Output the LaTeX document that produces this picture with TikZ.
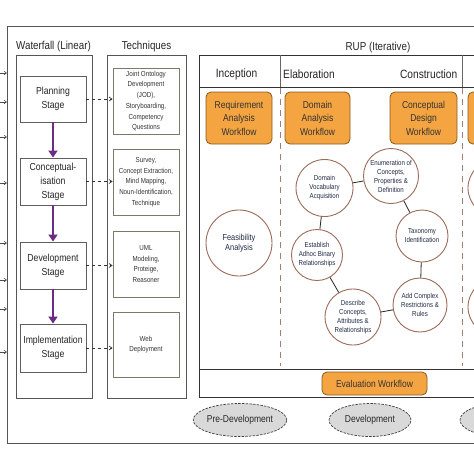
\documentclass[tikz,border=0pt]{standalone}
\usepackage{fontspec}
\setmainfont{Liberation Sans}[FakeStretch=0.85]
\usetikzlibrary{arrows.meta,shapes.geometric}
\definecolor{framegrey}{HTML}{555555}
\definecolor{boxgrey}{HTML}{5E5E5E}
\definecolor{techgrey}{HTML}{7A7A68}
\definecolor{purp}{HTML}{6B2D83}
\definecolor{orfill}{HTML}{F4A441}
\definecolor{ordraw}{HTML}{8A5A1E}
\definecolor{circ}{HTML}{9C6B5A}
\definecolor{dashbrown}{HTML}{A08070}
\definecolor{navy}{HTML}{1F2A44}
\definecolor{ellfill}{HTML}{D9D9D9}
\tikzset{
  titletext/.style={font=\fontsize{11.5}{13}\selectfont, text=black!85, inner sep=0pt},
  headtext/.style={font=\fontsize{12}{14}\selectfont, text=black!85, inner sep=0pt},
  panelbox/.style={draw=framegrey, line width=0.9pt, inner sep=0pt},
  stagebox/.style={draw=boxgrey, line width=0.9pt, align=center, inner sep=0pt, minimum width=66, font=\fontsize{10.2}{14}\selectfont, text=black!85},
  techbox/.style={draw=techgrey, line width=0.8pt, align=center, inner sep=0pt, minimum width=66, font=\fontsize{7.3}{10.7}\selectfont, text=black!80},
  orbox/.style={draw=ordraw, fill=orfill, rounded corners=5pt, line width=0.8pt, align=center, inner sep=0pt, font=\fontsize{10}{13.5}\selectfont, text=black!80},
  circnode/.style={circle, draw=circ, fill=white, line width=0.9pt, align=center, inner sep=0pt, font=\fontsize{7.2}{9}\selectfont, text=navy},
  ellnode/.style={ellipse, draw=black!75, dash pattern=on 2.5pt off 1.2pt, fill=ellfill, line width=0.7pt, inner sep=0pt, minimum width=82, minimum height=33, font=\fontsize{10}{12}\selectfont, text=black!85},
  purparrow/.style={draw=purp, line width=2.6pt, -{Triangle[length=7pt,width=9pt]}},
  dasharrow/.style={draw=black!80, dashed, line width=0.7pt, -{Straight Barb[length=3pt,width=4pt]}},
  sidearrow/.style={draw=black!70, line width=0.6pt, -{Straight Barb[length=2.5pt,width=3.5pt]}},
  rupline/.style={draw=black!80, line width=1pt},
  dashsep/.style={draw=dashbrown, line width=0.9pt, dash pattern=on 6pt off 5pt},
  link/.style={draw=black!85, line width=0.8pt}
}
\begin{document}
\begin{tikzpicture}[x=1pt,y=-1pt]
\clip (0,0) rectangle (474,474);
\fill[white] (0,0) rectangle (474,474);

% outer frame
\draw[draw=framegrey, line width=0.9pt] (520,26) -- (7,26) -- (7,443) -- (520,443);

% left incoming arrows
\foreach \yy [count=\i] in {73,102,137,183,243,280,309,352}{
  \coordinate (ls\i) at (-2,\yy);
  \coordinate (le\i) at (7,\yy);
  \draw[sidearrow] (ls\i) -- (le\i);
}

% titles
\node[titletext] (wft) at (53.5,47) {Waterfall (Linear)};
\node[titletext] (tet) at (146.5,47) {Techniques};
\node[titletext] (rupt) at (378,48) {RUP (Iterative)};

% panels
\node[panelbox, minimum width=76, minimum height=343] (wf) at (54,226.5) {};
\node[panelbox, minimum width=79, minimum height=343] (te) at (146.5,226.5) {};

% stages
\node[stagebox, minimum height=46] (plan) at (53,99) {Planning\\Stage};
\node[stagebox, minimum height=47] (conc) at (53,181.5) {Conceptual-\\isation\\Stage};
\node[stagebox, minimum height=47] (dev) at (53,265.5) {Development\\Stage};
\node[stagebox, minimum height=48] (impl) at (53,348) {Implementation\\Stage};

\draw[purparrow] (plan.south) -- (conc.north);
\draw[purparrow] (conc.south) -- (dev.north);
\draw[purparrow] (dev.south) -- (impl.north);

% techniques
\node[techbox, minimum height=66] (t1) at (146,101) {Joint Ontology\\Development\\(JOD),\\Storyboarding,\\Competency\\Questions};
\node[techbox, minimum height=66] (t2) at (146,182) {Survey,\\Concept Extraction,\\Mind Mapping,\\Noun-Identification,\\Technique};
\node[techbox, minimum height=66] (t3) at (146,264) {UML\\Modeling,\\Proteige,\\Reasoner};
\node[techbox, minimum height=65] (t4) at (146,344.5) {Web\\Deployment};

\draw[dasharrow] (plan.east) -- (plan.east -| t1.west);
\draw[dasharrow] (conc.east) -- (conc.east -| t2.west);
\draw[dasharrow] (dev.east) -- (dev.east -| t3.west);
\draw[dasharrow] (impl.east) -- (impl.east -| t4.west);

% RUP frame
\node[panelbox, draw=black!80, line width=1pt, minimum width=330, minimum height=342, anchor=north west] (rup) at (199,55) {};
\coordinate (h1) at (199,87);
\coordinate (h2) at (540,87);
\coordinate (b1) at (199,369);
\coordinate (b2) at (540,369);
\draw[rupline] (h1) -- (h2);
\draw[rupline] (b1) -- (b2);
\draw[draw=black!60, line width=0.8pt] (280,55) -- (280,87);
\draw[draw=black!60, line width=0.8pt] (462,55) -- (462,87);
\draw[dashsep] (280,88) -- (280,366);
\draw[dashsep] (462,88) -- (462,366);

\node[headtext] (inc) at (236.5,74) {Inception};
\node[headtext, anchor=west] (ela) at (283,74) {Elaboration};
\node[headtext, anchor=east] (con) at (457.5,74) {Construction};

% orange workflows
\node[orbox, minimum width=66, minimum height=52] (req) at (239,118) {Requirement\\Analysis\\Workflow};
\node[orbox, minimum width=65, minimum height=52] (dom) at (317.5,118) {Domain\\Analysis\\Workflow};
\node[orbox, minimum width=67, minimum height=52] (cdw) at (423.5,118) {Conceptual\\Design\\Workflow};
\node[orbox, minimum width=66, minimum height=52] (trw) at (501,118) {};

% circles
\node[circnode, minimum size=66, font=\fontsize{8.7}{10}\selectfont] (feas) at (239,243) {Feasibility\\Analysis};
\node[circnode, minimum size=57] (dva) at (324.5,188) {Domain\\Vocabulary\\Acquisition};
\node[circnode, minimum size=55] (enu) at (391,176) {Enumeration of\\Concepts,\\Properties \&\\Definition};
\node[circnode, minimum size=52] (tax) at (422,236) {Taxonomy\\Identification};
\node[circnode, minimum size=51] (est) at (317,255) {Establish\\Adhoc Binary\\Relationships};
\node[circnode, minimum size=56] (des) at (353,317) {Describe\\Concepts,\\Attributes \&\\Relationships};
\node[circnode, minimum size=54] (add) at (420,305) {Add Complex\\Restrictions \&\\Rules};
\node[circnode, minimum size=56] (p1) at (496,188) {};
\node[circnode, minimum size=56] (p2) at (496,307) {};

\draw[link] (dva) -- (enu);
\draw[link] (enu) -- (tax);
\draw[link] (tax) -- (add);
\draw[link] (add) -- (des);
\draw[link] (des) -- (est);
\draw[link] (est) -- (dva);

% evaluation workflow
\node[orbox, minimum width=105, minimum height=23, font=\fontsize{10}{12}\selectfont] (eval) at (374.5,383.5) {Evaluation Workflow};

% phase ellipses
\node[ellnode] (pre) at (240,420) {Pre-Development};
\node[ellnode] (devp) at (370,420) {Development};
\node[ellnode] (post) at (501,420) {};
\end{tikzpicture}
\end{document}
